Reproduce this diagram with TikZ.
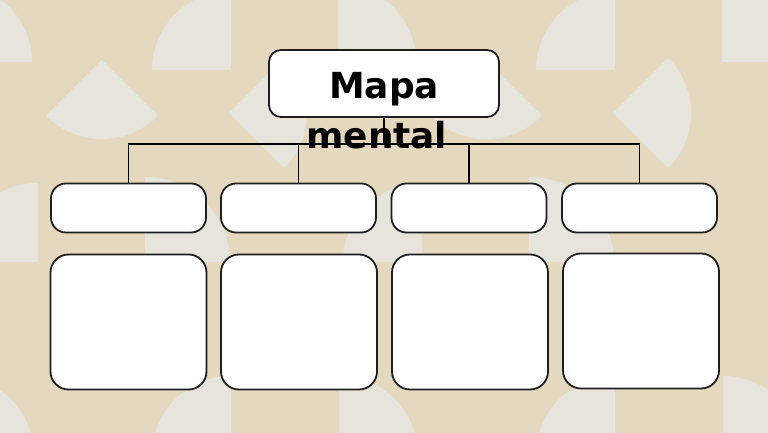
\documentclass[tikz,border=0pt]{standalone}
\usepackage{fontspec}
\setmainfont{DejaVu Sans}
\definecolor{paper}{RGB}{228,217,191}
\definecolor{patch}{RGB}{231,228,222}
\definecolor{boxline}{RGB}{30,30,30}
\begin{document}
\begin{tikzpicture}[x=1bp,y=1bp,
    box/.style={draw=boxline,fill=white,line width=1.8bp,inner sep=0pt},
    titlebox/.style={box,minimum width=230bp,minimum height=67bp,rounded corners=12bp},
    headbox/.style={box,minimum width=155bp,minimum height=49bp,rounded corners=15bp},
    bodybox/.style={box,minimum width=156bp,minimum height=135bp,rounded corners=18bp},
    link/.style={line width=1.8bp,draw=black}]
    \useasboundingbox (0,0) rectangle (768,433);
    \newcommand\sector[4]{% {<center>}{<start>}{<end>}{<radius>}
        \fill[patch] #1 -- ++(#2:#4) arc[start angle=#2,end angle=#3,radius=#4] -- cycle;
    }

    % background pattern, repeats every 384
    \fill[paper] (0,0) rectangle (768,433);
    \begin{scope}
        \clip (0,0) rectangle (768,433);
        \foreach \o in {-384,0,384}{
            \sector{(338+\o,371)}{0}{90}{78}
            \sector{(231+\o,363)}{90}{180}{79}
            \sector{(102+\o,373)}{225}{315}{79}
            \sector{(229+\o,320)}{-45}{45}{78}
            \sector{(38+\o,171)}{90}{180}{79}
            \sector{(145+\o,171)}{0}{90}{85}
            \sector{(231+\o,-22)}{90}{180}{79}
            \sector{(339+\o,-22)}{0}{90}{79}
        }
    \end{scope}

    % boxes
    \node[titlebox] (title) at (384,349.5) {};
    \node[headbox] (h1) at (128.5,225) {};
    \node[headbox] (h2) at (298.5,225) {};
    \node[headbox] (h3) at (469,225) {};
    \node[headbox] (h4) at (639.5,225) {};
    \node[bodybox] (b1) at (128.5,111) {};
    \node[bodybox] (b2) at (299,111) {};
    \node[bodybox] (b3) at (470,111) {};
    \node[bodybox] (b4) at (641,112) {};

    % connectors
    \draw[link] (title.south) -- ++(0,-26) coordinate (bus);
    \foreach \i in {1,...,4}
        \draw[link] (bus) -| (h\i.north);

    \node[font=\bfseries\fontsize{36}{50}\selectfont,align=center,anchor=base] (titletext) at (384,284.5) {Mapa\\mental\kern.4em};
\end{tikzpicture}
\end{document}
